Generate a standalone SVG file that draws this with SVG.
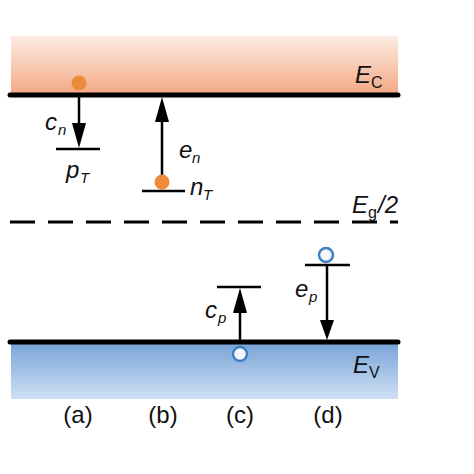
<svg xmlns="http://www.w3.org/2000/svg" width="474" height="474" viewBox="0 0 474 474">
<defs>
<linearGradient id="gc" x1="0" y1="0" x2="0" y2="1">
<stop offset="0" stop-color="#fcece3"/>
<stop offset="1" stop-color="#f3a883"/>
</linearGradient>
<linearGradient id="gv" x1="0" y1="0" x2="0" y2="1">
<stop offset="0" stop-color="#77a3d8"/>
<stop offset="1" stop-color="#cfe0f3"/>
</linearGradient>
<style>
.band{stroke:#000;stroke-width:5;stroke-linecap:round;fill:none}
.lvl{stroke:#000;stroke-width:2.5;fill:none}
.sh{stroke:#000;stroke-width:2.5;fill:none}
.head{fill:#000}
.el{fill:#ee8a3c}
.ho{fill:#f4f8fd;stroke:#3d7fc2;stroke-width:2.5}
text{font-family:"Liberation Sans",Arial,sans-serif;fill:#111}
.m{font-size:24px;font-style:italic}
.s{font-size:15px;font-style:italic}
.su{font-size:16px}
.lab{font-size:24px;text-anchor:middle}
</style>
</defs>
<rect x="11" y="36" width="387" height="59" fill="url(#gc)"/>
<rect x="11" y="342" width="387" height="57" fill="url(#gv)"/>
<g id="connectors">
<line class="band" x1="10" y1="95" x2="398" y2="95"/>
<line class="band" x1="10" y1="342" x2="398" y2="342"/>
<line x1="10" y1="222" x2="398" y2="222" stroke="#000" stroke-width="3" stroke-dasharray="25 13"/>
<line class="sh" x1="79" y1="95" x2="79" y2="125"/>
<polygon class="head" points="72,123 86,123 79,148"/>
<line class="sh" x1="162" y1="182" x2="162" y2="120"/>
<polygon class="head" points="155,122 169,122 162,97"/>
<line class="sh" x1="240" y1="342" x2="240" y2="311"/>
<polygon class="head" points="233,313 247,313 240,288"/>
<line class="sh" x1="327" y1="265" x2="327" y2="322"/>
<polygon class="head" points="320,320 334,320 327,340"/>
</g>
<g id="ec"><text class="m" x="355" y="83">E</text><text class="su" x="371" y="88">C</text></g>
<g id="eg"><text class="m" x="352" y="213">E</text><text class="su" x="368" y="218">g</text><text class="m" x="378" y="213">/2</text></g>
<g id="ev"><text class="m" x="353" y="373">E</text><text class="su" x="369" y="378">V</text></g>
<g id="a">
<circle class="el" cx="79" cy="83" r="7.5"/>
<line class="lvl" x1="56" y1="149" x2="100" y2="149"/>
<text class="m" x="45" y="130">c</text><text class="s" x="58" y="135">n</text>
<text class="m" x="66" y="178">p</text><text class="s" x="80" y="183">T</text>
<text class="lab" x="78" y="423">(a)</text>
</g>
<g id="b">
<circle class="el" cx="162" cy="182" r="7.5"/>
<line class="lvl" x1="142" y1="191" x2="185" y2="191"/>
<text class="m" x="179" y="158">e</text><text class="s" x="192" y="163">n</text>
<text class="m" x="190" y="195">n</text><text class="s" x="203" y="200">T</text>
<text class="lab" x="163" y="423">(b)</text>
</g>
<g id="c">
<circle class="ho" cx="240" cy="354" r="7"/>
<line class="lvl" x1="217" y1="287" x2="261" y2="287"/>
<text class="m" x="205" y="318">c</text><text class="s" x="218" y="323">p</text>
<text class="lab" x="240" y="423">(c)</text>
</g>
<g id="d">
<circle class="ho" cx="326" cy="255" r="7"/>
<line class="lvl" x1="305" y1="265" x2="350" y2="265"/>
<text class="m" x="295" y="297">e</text><text class="s" x="309" y="302">p</text>
<text class="lab" x="328" y="423">(d)</text>
</g>
</svg>
